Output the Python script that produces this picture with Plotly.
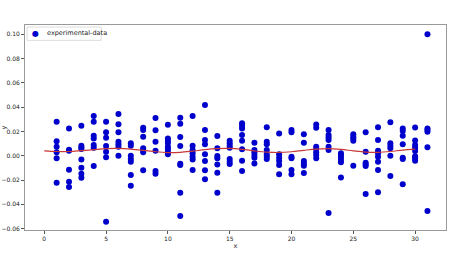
import plotly.graph_objects as go

# x levels of the experimental data
obs_x_levels = list(range(1, 32))
# y readings at each x level
obs_y_by_x = [
    [0.028, 0.012, 0.0074, 0.0028, -0.0021, -0.0222],
    [0.0225, 0.0050, 0.0042, -0.0115, -0.0214, -0.0258],
    [0.0247, 0.0082, 0.0068, 0.0055, -0.003, -0.0099, -0.0148, -0.0181],
    [0.0327, 0.028, 0.0165, 0.0143, 0.0088, 0.0066, -0.0085],
    [0.028, 0.0193, 0.0148, 0.008, 0.0033, -0.0013, -0.0543],
    [0.0343, 0.026, 0.0193, 0.0115, 0.0094, 0.0074, 0.0],
    [0.0102, 0.0082, 0.0, -0.0027, -0.0049, -0.0159, -0.0247],
    [0.023, 0.0212, 0.0156, 0.0061, 0.0047, 0.0028, -0.012],
    [0.031, 0.0209, 0.0115, 0.0041, -0.0126, -0.0148],
    [0.0255, 0.0143, 0.0123, 0.0105, 0.0074, 0.0055, 0.0033, 0.0012],
    [0.0313, 0.0263, 0.0154, 0.008, -0.0066, -0.0077, -0.0305, -0.0496],
    [0.0327, 0.0082, 0.0047, 0.002, -0.0008, -0.003, -0.0118],
    [0.0417, 0.0211, 0.0129, 0.0094, 0.0012, -0.0044, -0.012, -0.0194],
    [0.0162, 0.0061, -0.0002, -0.0021, -0.0071, -0.014, -0.0305],
    [0.0123, 0.0102, 0.0082, 0.0066, -0.0027, -0.0049, -0.0068],
    [0.0267, 0.0247, 0.0225, 0.017, 0.0123, 0.0053, -0.0041, -0.0126],
    [0.0107, 0.0047, 0.0028, 0.0006, -0.0016, -0.0063],
    [0.0234, 0.0115, 0.0094, 0.0047, 0.0012, -0.0008, -0.0027],
    [0.0184, 0.0012, -0.0016, -0.0044, -0.0077, -0.0153],
    [0.0211, 0.0193, -0.0008, -0.0021, -0.0118, -0.0153],
    [0.0176, 0.0107, -0.0044, -0.0063, -0.0082, -0.0142],
    [0.0258, 0.023, 0.0074, 0.0055, 0.0028, 0.0006, -0.0021],
    [0.0211, 0.017, 0.0151, 0.0129, 0.0074, 0.0047, -0.0472],
    [0.002, 0.0006, -0.0013, -0.0035, -0.0054, -0.0178],
    [0.0176, 0.0156, 0.0143, 0.0123, -0.0082],
    [0.0193, 0.0033, -0.0058, -0.0071, -0.0085, -0.0315],
    [0.0234, 0.0129, 0.0041, 0.002, -0.0008, -0.0049, -0.0118, -0.0301],
    [0.0275, 0.0102, 0.0082, 0.0061, 0.0, -0.0167],
    [0.0225, 0.0203, 0.0165, 0.0094, -0.0016, -0.0027, -0.0235],
    [0.0232, 0.0126, 0.0088, 0.0066, 0.004, -0.0004, -0.002, -0.0042],
    [0.0999, 0.0225, 0.0211, 0.0198, 0.0069, -0.0455],
]

# smooth fit curve
fit_x = list(range(0, 31))
fit_y = [0.0040, 0.0035, 0.0035, 0.0042, 0.0050, 0.0058, 0.0060, 0.0055, 0.0045, 0.0033,
         0.0026, 0.0028, 0.0038, 0.0050, 0.0058, 0.0060, 0.0053, 0.0040, 0.0030, 0.0027,
         0.0033, 0.0045, 0.0055, 0.0058, 0.0052, 0.0040, 0.0030, 0.0028, 0.0035, 0.0047,
         0.0055]

x_ticks = [0, 5, 10, 15, 20, 25, 30]
y_ticks = [-0.06, -0.04, -0.02, 0.0, 0.02, 0.04, 0.06, 0.08, 0.10]
series_name = "experimental-data"
dot_color = "#0000cc"

px, py = [], []
for xv, ys in zip(obs_x_levels, obs_y_by_x):
    for yv in ys:
        px.append(xv)
        py.append(yv)

fig = go.Figure()
fig.add_trace(go.Scatter(x=px, y=py, mode="markers", name=series_name, showlegend=False,
                         marker=dict(color=dot_color, size=6)))
fig.add_trace(go.Scatter(x=fit_x, y=fit_y, mode="lines", showlegend=False,
                         line=dict(color="#c83838", width=1.2, shape="spline")))

font = "DejaVu Sans"
fig.update_layout(
    width=474, height=259,
    margin=dict(l=25, r=28, t=25, b=29, autoexpand=False),
    paper_bgcolor="white", plot_bgcolor="white",
    font=dict(family=font, size=6, color="#222"),
    showlegend=False,
)
# compact matplotlib-style legend box (upper left)
fig.add_shape(type="rect", xref="paper", yref="paper",
              x0=0.005, x1=0.181, y0=0.925, y1=0.99,
              line=dict(color="#dddddd", width=1), fillcolor="white", layer="above")
fig.add_annotation(xref="paper", yref="paper", x=0.0254, y=0.959, text="●",
                   showarrow=False, font=dict(size=8, color=dot_color),
                   xanchor="center", yanchor="middle")
fig.add_annotation(xref="paper", yref="paper", x=0.047, y=0.959, text=series_name,
                   showarrow=False, font=dict(size=6.5, color="#222"),
                   xanchor="left", yanchor="middle")

fig.update_xaxes(range=[-1.56, 32.5], tickvals=x_ticks, ticktext=[str(t) for t in x_ticks],
                 automargin=False,
                 showgrid=False, zeroline=False, showline=True, linecolor="#999", linewidth=1,
                 mirror=True, ticks="outside", ticklen=3, tickcolor="#555",
                 title=dict(text="x", font=dict(size=6.5), standoff=2))
fig.update_yaxes(range=[-0.0611, 0.1076], tickvals=y_ticks, tickformat=".2f",
                 automargin=False,
                 showgrid=False, zeroline=False, showline=True, linecolor="#999", linewidth=1,
                 mirror=True, ticks="outside", ticklen=3, tickcolor="#555",
                 title=dict(text="y", font=dict(size=6.5), standoff=2))

fig.write_html("out.html")
